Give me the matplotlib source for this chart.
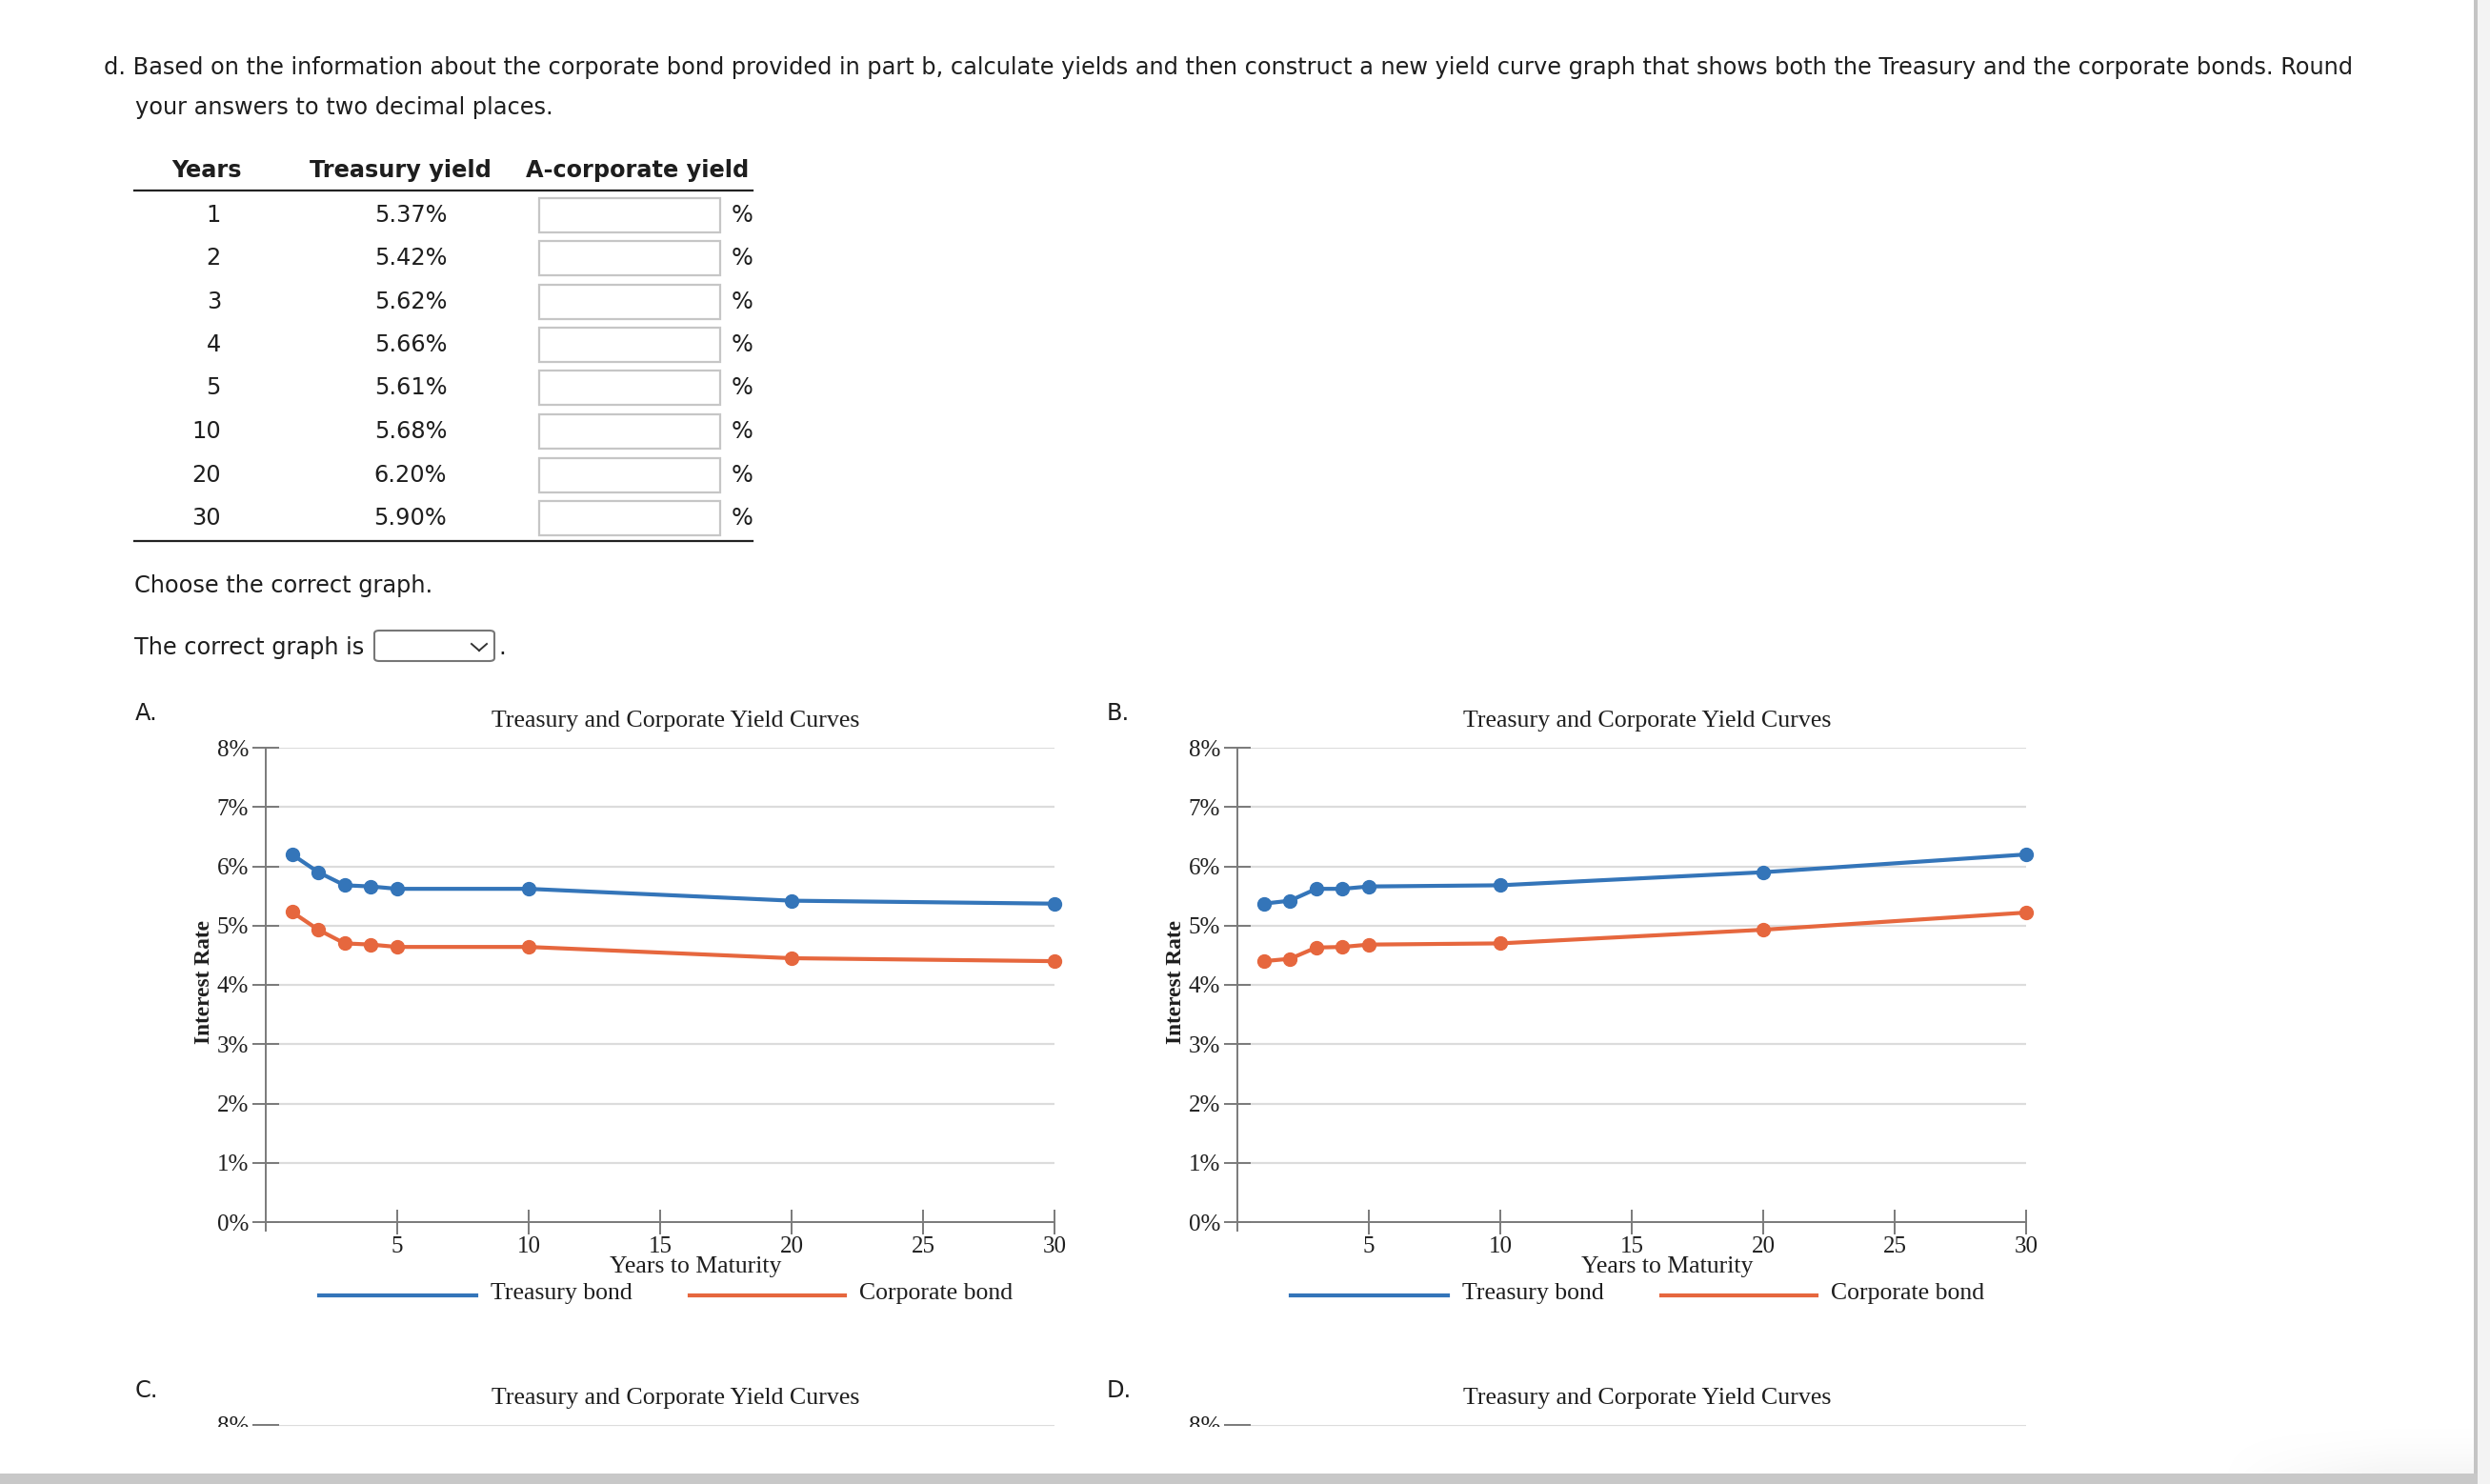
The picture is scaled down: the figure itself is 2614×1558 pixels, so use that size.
import numpy as np
import matplotlib.pyplot as plt
from matplotlib.lines import Line2D
from matplotlib.patches import Rectangle, FancyBboxPatch

W, H = 2614, 1558

# table data
years = [1, 2, 3, 4, 5, 10, 20, 30]
treasury_yield = ["5.37%", "5.42%", "5.62%", "5.66%", "5.61%", "5.68%", "6.20%", "5.90%"]

# chart values (percent)
a_treasury = [6.20, 5.90, 5.68, 5.66, 5.62, 5.62, 5.42, 5.37]
a_corporate = [5.23, 4.93, 4.70, 4.68, 4.64, 4.64, 4.45, 4.40]
b_treasury = [5.37, 5.42, 5.62, 5.62, 5.66, 5.68, 5.90, 6.20]
b_corporate = [4.40, 4.44, 4.63, 4.64, 4.68, 4.70, 4.93, 5.22]
x_ticks = [5, 10, 15, 20, 25, 30]
y_ticks = list(range(0, 9))
y_labels = [f"{v}%" for v in y_ticks]

BLUE = "#3475b9"
ORANGE = "#e6673e"
GRID = "#dcdcdc"
AXIS = "#7a7a7a"
TXT = "#1e1e1e"
SERIF = "Liberation Serif"
SANS = "DejaVu Sans"
FS = 17.3

fig = plt.figure(figsize=(W / 100, H / 100), dpi=100)


def ptext(x, y, s, **kw):
    kw.setdefault("color", TXT)
    kw.setdefault("va", "center")
    return fig.text(x / W, 1 - y / H, s, **kw)


def pline(x1, x2, y1, y2, **kw):
    fig.add_artist(Line2D([x1 / W, x2 / W], [1 - y1 / H, 1 - y2 / H],
                          transform=fig.transFigure, **kw))


def prect(x, y, w, h, **kw):
    fig.add_artist(Rectangle((x / W, 1 - (y + h) / H), w / W, h / H,
                             transform=fig.transFigure, **kw))


# question text
ptext(109, 71, "d. Based on the information about the corporate bond provided in part b, "
      "calculate yields and then construct a new yield curve graph that shows both the "
      "Treasury and the corporate bonds. Round", family=SANS, fontsize=FS)
ptext(142, 113, "your answers to two decimal places.", family=SANS, fontsize=FS)

# table
ptext(217, 179, "Years", family=SANS, fontsize=FS, weight="bold", ha="center")
ptext(420, 179, "Treasury yield", family=SANS, fontsize=FS, weight="bold", ha="center")
ptext(669, 179, "A-corporate yield", family=SANS, fontsize=FS, weight="bold", ha="center")
pline(141, 790, 200, 200, color="#222222", lw=1.6)
row_y = [226, 271, 317, 362, 407, 453, 499, 544]
for yr, ty, ry in zip(years, treasury_yield, row_y):
    ptext(232, ry, str(yr), family=SANS, fontsize=FS, ha="right")
    ptext(431, ry, ty, family=SANS, fontsize=FS, ha="center")
    prect(566, ry - 18, 190, 36, facecolor="white", edgecolor="#c6c6c6", lw=1.6)
    ptext(779, ry, "%", family=SANS, fontsize=FS, ha="center")
pline(141, 790, 568, 568, color="#222222", lw=1.6)

ptext(141, 615, "Choose the correct graph.", family=SANS, fontsize=FS)
ptext(141, 680, "The correct graph is", family=SANS, fontsize=FS)
fig.add_artist(FancyBboxPatch((393 / W, 1 - 694 / H), 126 / W, 32 / H,
                              boxstyle="round,pad=0,rounding_size=0.002",
                              transform=fig.transFigure, facecolor="white",
                              edgecolor="#777777", lw=1.5))
pline(495, 503, 676, 683, color="#333333", lw=1.4)
pline(503, 511, 683, 676, color="#333333", lw=1.4)
ptext(523, 680, ".", family=SANS, fontsize=FS)


def style_y(ax, ticks, labels):
    ax.set_yticks(ticks)
    ax.set_yticklabels(labels, family=SERIF, fontsize=18, color=TXT)
    ax.tick_params(axis="y", direction="inout", length=20, width=1.4, color=AXIS, pad=3)
    ax.yaxis.grid(True, color=GRID, lw=1.6)
    ax.set_axisbelow(True)


def chart(dx, dy, letter, tre=None, cor=None):
    left, right, top, bottom = 279 + dx, 1107 + dx, 785 + dy, 1283 + dy
    ptext(142 + dx, 749 + dy, letter, family=SANS, fontsize=FS)
    ptext(709 + dx, 757 + dy, "Treasury and Corporate Yield Curves", family=SERIF,
          fontsize=18.6, ha="center")
    if tre is None:
        # only the top strip of the panel is visible on the page
        ax = fig.add_axes([left / W, 1 - (top + 2) / H, (right - left) / W, 2 / H])
        ax.set_xlim(0, 30)
        ax.set_ylim(8 - 2 / 62.3, 8)
        ax.set_facecolor("none")
        for s in ["top", "right", "bottom", "left"]:
            ax.spines[s].set_visible(False)
        ax.set_xticks([])
        style_y(ax, [8], ["8%"])
        return ax

    ax = fig.add_axes([left / W, 1 - bottom / H, (right - left) / W, (bottom - top) / H])
    ax.set_xlim(0, 30)
    ax.set_ylim(0, 8)
    ax.set_facecolor("none")
    for s in ["top", "right"]:
        ax.spines[s].set_visible(False)
    for s in ["left", "bottom"]:
        ax.spines[s].set_color(AXIS)
        ax.spines[s].set_linewidth(1.4)
    style_y(ax, y_ticks, y_labels)
    ax.set_xticks(x_ticks)
    ax.set_xticklabels([str(t) for t in x_ticks], family=SERIF, fontsize=18, color=TXT)
    ax.tick_params(axis="x", direction="inout", length=19, width=1.4, color=AXIS, pad=1)
    ax.plot([0, 0], [-0.15, 0], color=AXIS, lw=1.4, clip_on=False)
    ax.plot(years, tre, color=BLUE, lw=3, marker="o", ms=10, clip_on=False, zorder=3)
    ax.plot(years, cor, color=ORANGE, lw=3, marker="o", ms=10, clip_on=False, zorder=3)

    ptext(730 + dx, 1330 + dy, "Years to Maturity", family=SERIF, fontsize=18.5, ha="center")
    ptext(215 + dx, 1031 + dy, "Interest Rate", family=SERIF, fontsize=16.8,
          weight="bold", rotation=90, ha="center")
    pline(335 + dx, 500 + dx, 1360 + dy, 1360 + dy, color=BLUE, lw=3)
    ptext(515 + dx, 1358 + dy, "Treasury bond", family=SERIF, fontsize=18.5)
    pline(724 + dx, 887 + dx, 1360 + dy, 1360 + dy, color=ORANGE, lw=3)
    ptext(902 + dx, 1358 + dy, "Corporate bond", family=SERIF, fontsize=18.5)
    return ax


chart(0, 0, "A.", a_treasury, a_corporate)
chart(1020, 0, "B.", b_treasury, b_corporate)
chart(0, 711, "C.")
chart(1020, 711, "D.")

# page clipping below the visible part of C and D, plus window edges
prect(0, 1498, 2597, 49, facecolor="white", edgecolor="none", zorder=10)
shade = fig.add_axes([2330 / W, 1 - 1547 / H, 267 / W, 60 / H], zorder=10)
gy = np.linspace(0, 1, 60)[:, None]
gx = np.linspace(0, 1, 267)[None, :]
shade.imshow(gy ** 2 * np.clip(gx * 1.5, 0, 1), cmap="Greys", vmin=0, vmax=12,
             aspect="auto", interpolation="bilinear")
shade.set_axis_off()
prect(0, 1547, 2605, 11, facecolor="#c8c8c8", edgecolor="none", zorder=11)
prect(2597, 0, 4, 1547, facecolor="#c4c4c4", edgecolor="none", zorder=11)
prect(2601, 0, 13, 1558, facecolor="#f3f3f3", edgecolor="none", zorder=11)

fig.savefig("out.png", dpi=100, facecolor="white")
